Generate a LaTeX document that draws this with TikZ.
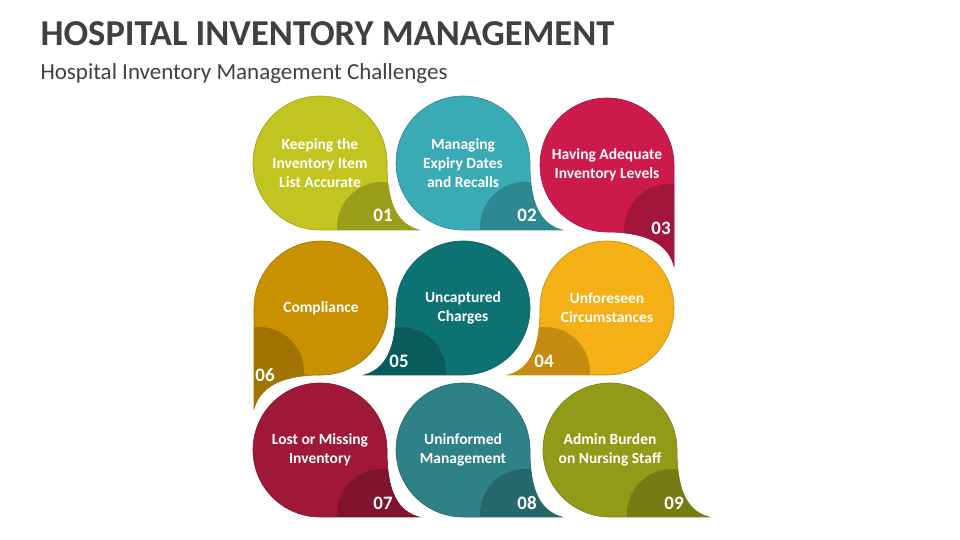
\documentclass[tikz,border=0pt]{standalone}
\usepackage{fontspec}
\setmainfont{Carlito}
\usetikzlibrary{positioning,calc}
\definecolor{titlegray}{HTML}{404040}
\definecolor{lime}{HTML}{C2C520}
\definecolor{aqua}{HTML}{3AAAB5}
\definecolor{crimson}{HTML}{CC1A4C}
\definecolor{ochre}{HTML}{C99000}
\definecolor{tealdark}{HTML}{0D7272}
\definecolor{amber}{HTML}{F5B015}
\definecolor{wine}{HTML}{A01838}
\definecolor{petrol}{HTML}{2F8188}
\definecolor{olive}{HTML}{919B18}

% tail along the bottom (h) or down the side (v), drawn for the right-hand case
\newcommand\tailh{(0,-67) -- (99,-67) .. controls (72,-60) and (67,-30) .. (67,0) arc[start angle=0,end angle=270,radius=67] -- cycle}
\newcommand\tailv{(67,0) -- (67,-101) .. controls (60,-74) and (30,-67) .. (0,-67) arc[start angle=-90,end angle=-360,radius=67] -- cycle}

% \bubble{name}{x}{y}{xscale}{tail}{colour}{text}{number}{numpos}
\newcommand\bubble[9]{%
  \begin{scope}[shift={(#2,#3)},xscale=#4]
    \fill[#6] #5;
    \begin{scope}
      \clip #5;
      \fill[#6!80!black] (62,-64) circle[radius=45];
    \end{scope}
    \draw[#6!80!black,line width=0.6pt] #5;
  \end{scope}
  \node[bubtext] (#1) at (#2,#3) {#7};
  \node[numtext] (#1n) at ($(#2,#3)+(#9)$) {#8};
}

\begin{document}
\begin{tikzpicture}[x=1pt,y=1pt,
  bubtext/.style={text=white,font=\fontsize{15.5}{19}\selectfont\bfseries,align=center},
  numtext/.style={text=white,font=\fontsize{19}{21}\selectfont\bfseries},
]
\useasboundingbox (0,0) rectangle (960,540);

% heading
\node[anchor=west,text=titlegray,font=\fontsize{36.5}{40}\selectfont\bfseries] (title) at (37,506) {HOSPITAL INVENTORY MANAGEMENT};
\node[anchor=west,text=titlegray,font=\fontsize{23}{26}\selectfont] (subtitle) at (37,467) {Hospital Inventory Management Challenges};

% row 1
\bubble{b01}{320}{377}{1}{\tailh}{lime}{Keeping the\\Inventory Item\\List Accurate}{01}{63,-52}
\bubble{b02}{463}{377}{1}{\tailh}{aqua}{Managing\\Expiry Dates\\and Recalls}{02}{64,-52}
\bubble{b03}{607}{375}{1}{\tailv}{crimson}{Having Adequate\\Inventory Levels}{03}{54,-63}

% row 2
\bubble{b06}{321}{232}{-1}{\tailv}{ochre}{Compliance}{06}{-56,-67}
\bubble{b05}{463}{232}{-1}{\tailh}{tealdark}{Uncaptured\\Charges}{05}{-64,-53}
\bubble{b04}{607}{232}{-1}{\tailh}{amber}{Unforeseen\\Circumstances}{04}{-63,-53}

% row 3
\bubble{b07}{320}{90}{1}{\tailh}{wine}{Lost or Missing\\Inventory}{07}{63,-53}
\bubble{b08}{463}{90}{1}{\tailh}{petrol}{Uninformed\\Management}{08}{64,-53}
\bubble{b09}{610}{90}{1}{\tailh}{olive}{Admin Burden\\on Nursing Staff}{09}{64,-53}
\end{tikzpicture}
\end{document}
